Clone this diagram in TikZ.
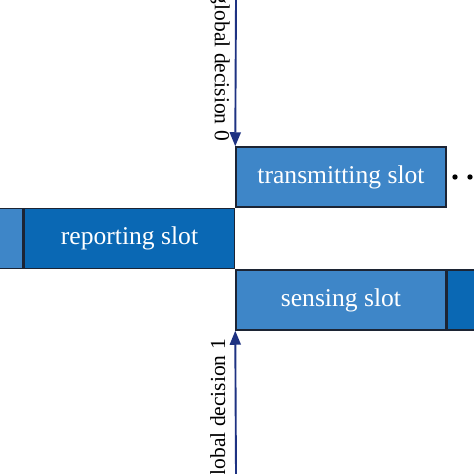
\documentclass[tikz,border=0pt]{standalone}
\usepackage{fontspec}
\setmainfont{Liberation Serif}
\usetikzlibrary{positioning,arrows.meta}
\definecolor{SlotLight}{RGB}{62,134,200}
\definecolor{SlotDark}{RGB}{10,104,180}
\definecolor{EdgeDark}{RGB}{28,36,52}
\definecolor{ArrowNavy}{RGB}{30,50,130}
\tikzset{
  slot/.style={draw=EdgeDark,line width=1.5pt,minimum width=210pt,minimum height=60pt,
    inner sep=0pt,text=white,font=\fontsize{25.6}{28}\selectfont},
  lightslot/.style={slot,fill=SlotLight},
  darkslot/.style={slot,fill=SlotDark},
  decision/.style={draw=ArrowNavy,line width=1.9pt,-{Triangle[length=14pt,width=11pt]}},
  lbl/.style={font=\fontsize{21.5}{24}\selectfont,inner sep=0pt},
}

\begin{document}
\begin{tikzpicture}[x=1pt,y=-1pt]
\useasboundingbox (0,0) rectangle (474,474);
\node[lightslot] (trans) at (341,177) {transmitting slot};
\node[darkslot,anchor=north east] (report) at (trans.south west) {reporting slot};
\node[lightslot,anchor=north east] (prev) at (report.north west) {};
\node[lightslot,anchor=north west] (sense) at (report.south east) {sensing slot};
\node[darkslot,anchor=north west] (next) at (sense.north east) {};
\coordinate (top) at (236,0);
\coordinate (bot) at (236,474);
\draw[decision] (top) -- (trans.north west);
\draw[decision] (bot) -- (sense.south west);
\node[lbl,rotate=-90,anchor=east] (dec0) at (220,141) {global decision 0};
\node[lbl,rotate=90,anchor=east] (dec1) at (220,339) {global decision 1};
\fill (455,177) circle (2.7pt);
\fill (470,177) circle (2.7pt);
\fill (485,177) circle (2.7pt);
\end{tikzpicture}
\end{document}
